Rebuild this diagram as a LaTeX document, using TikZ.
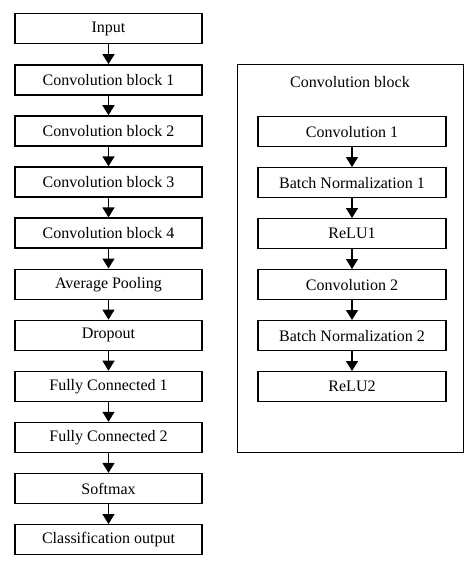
\documentclass[tikz,border=0pt]{standalone}
\usepackage{fontspec}
\setmainfont{Liberation Serif}
\usetikzlibrary{arrows.meta}
\begin{document}
\begin{tikzpicture}[x=1pt,y=-1pt,
  blk/.style={draw,line width=1.4pt,minimum width=187pt,minimum height=30pt,inner sep=0pt,font=\fontsize{16}{18}\selectfont,anchor=north},
  iblk/.style={draw,line width=1.4pt,minimum width=188pt,minimum height=30pt,inner sep=0pt,font=\fontsize{16}{18}\selectfont,anchor=north},
  arr/.style={line width=1.4pt,-{Triangle[length=10pt,width=12pt]}}]
\useasboundingbox (0,0) rectangle (474,566);
\def\rowA{13}
\foreach \i/\t in {0/Input,1/Convolution block 1,2/Convolution block 2,3/Convolution block 3,4/Convolution block 4,5/Average Pooling,6/Dropout,7/Fully Connected 1,8/Fully Connected 2,9/Softmax,10/Classification output}{
  \node[blk] (L\i) at (108.5,{13+51.1*\i}) {\t};
}
\foreach \i [evaluate=\i as \j using int(\i+1)] in {0,...,9}{
  \draw[arr] (L\i.south) -- (L\j.north);
}
\node[draw,line width=1.4pt,minimum width=226pt,minimum height=388pt,anchor=north west,inner sep=0pt] (outer) at (237,64) {};
\node[font=\fontsize{16}{18}\selectfont] (title) at (350,82) {Convolution block};
\foreach \i/\t in {0/Convolution 1,1/Batch Normalization 1,2/ReLU1,3/Convolution 2,4/Batch Normalization 2,5/ReLU2}{
  \node[iblk] (R\i) at (352,{116+51*\i}) {\t};
}
\foreach \i [evaluate=\i as \j using int(\i+1)] in {0,...,4}{
  \draw[arr] (R\i.south) -- (R\j.north);
}
\end{tikzpicture}
\end{document}
